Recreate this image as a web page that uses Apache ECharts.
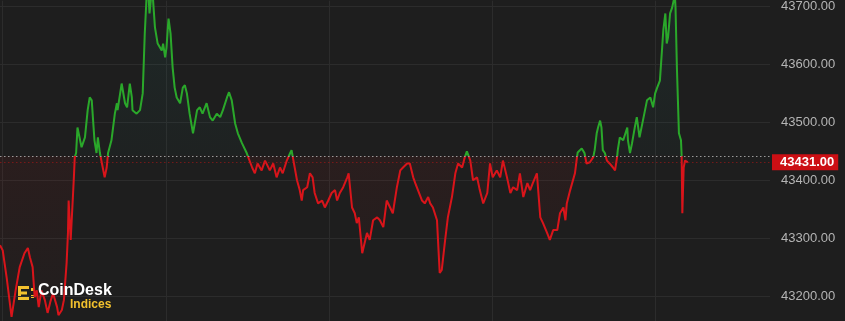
<!DOCTYPE html>
<html>
<head>
<meta charset="utf-8">
<script src="https://cdn.jsdelivr.net/npm/echarts@6/dist/echarts.min.js"></script>
<style>
html,body{margin:0;padding:0;background:#1e1e1e;}
#chart{width:845px;height:321px;}
</style>
</head>
<body>
<div id="chart"></div>
<script>
// time in minutes from the first vertical grid line (grid every 240 min)
const times = [
  -4,0,6,13,19,25,32,37,40,44,47,50,53,57,62,66,70,74,80,82,
  87,90,94,96,97,100,103,105,106,108,110,116,121,125,128,131,133,135,138,140,
  143,146,150,153,155,160,165,168,169,175,177,180,183,187,190,191,197,202,206,209,
  212,214,216,219,221,224,228,234,236,239,241,243,244,247,250,253,256,261,265,268,
  271,275,280,286,290,294,300,305,309,315,320,324,330,333,337,342,346,352,359,367,
  371,375,381,386,393,398,403,408,412,418,423,425,433,437,440,442,448,452,456,459,
  464,470,474,479,484,489,492,496,501,507,509,514,518,521,524,529,530,536,540,545,
  551,555,560,565,570,574,580,585,589,595,599,604,607,611,617,621,626,629,633,639,
  641,643,646,651,655,661,666,670,676,680,683,688,692,698,702,707,713,717,721,727,
  732,736,742,747,751,757,761,766,772,776,780,786,791,795,801,805,810,816,820,825,
  828,830,835,842,845,846,852,856,859,864,869,871,874,876,879,881,883,886,889,893,
  898,901,904,905,908,913,919,920,923,926,930,933,937,942,948,953,957,960,963,967,
  970,972,975,977,979,982,985,989,990,992,995,998,999,1000,1002,1004,1008
];
const prices = [
  43288,43279,43230,43164,43210,43250,43274,43283,43267,43250,43198,43210,43181,43210,43193,43171,43190,43205,43181,43167,
  43176,43193,43257,43309,43365,43297,43365,43412,43440,43447,43491,43457,43474,43521,43543,43538,43503,43469,43447,43474,
  43447,43429,43405,43422,43447,43469,43515,43533,43521,43567,43567,43533,43526,43567,43543,43521,43515,43521,43550,43653,
  43725,43730,43688,43725,43715,43664,43636,43624,43636,43612,43629,43664,43679,43653,43595,43560,43543,43533,43560,43564,
  43550,43515,43481,43521,43526,43515,43533,43509,43503,43515,43509,43521,43543,43552,43538,43498,43481,43464,43447,43422,
  43412,43429,43417,43434,43417,43429,43405,43422,43412,43434,43447,43452,43400,43383,43365,43383,43388,43412,43405,43378,
  43360,43365,43353,43365,43378,43383,43365,43378,43388,43405,43412,43353,43343,43326,43336,43274,43279,43309,43297,43331,
  43336,43331,43319,43365,43353,43343,43388,43417,43422,43429,43429,43405,43395,43383,43365,43360,43371,43360,43353,43331,
  43285,43240,43245,43297,43336,43371,43412,43429,43422,43440,43450,43434,43400,43405,43383,43360,43378,43429,43405,43417,
  43405,43434,43405,43378,43388,43383,43412,43371,43395,43383,43395,43412,43336,43326,43309,43297,43314,43314,43343,43353,
  43331,43360,43383,43412,43440,43448,43455,43447,43429,43431,43440,43452,43481,43491,43503,43491,43452,43447,43434,43429,
  43422,43417,43440,43452,43474,43469,43491,43469,43447,43464,43491,43509,43474,43503,43538,43543,43526,43550,43560,43572,
  43624,43659,43688,43636,43647,43688,43698,43720,43698,43595,43481,43469,43442,43343,43422,43434,43431
];
const baseline = 43442;
const lastPrice = 43431;
const yTickLabels = ['43200.00','43300.00','43400.00','43500.00','43600.00','43700.00'];

const GREEN = '#2aa82a';
const RED = '#d9141a';

const seriesData = times.map((t, i) => [t, prices[i]]);

const chart = echarts.init(document.getElementById('chart'), null, {renderer: 'canvas'});
chart.setOption({
  backgroundColor: '#1e1e1e',
  animation: false,
  grid: {left: 0, right: 75, top: 0, bottom: 0, containLabel: false},
  xAxis: {
    type: 'value', min: -4, max: 1129, minInterval: 240, maxInterval: 240,
    axisLine: {show: false}, axisTick: {show: false}, axisLabel: {show: false},
    splitLine: {show: true, showMinLine: false, showMaxLine: false, lineStyle: {color: '#2c2c2c', width: 1}}
  },
  yAxis: {
    type: 'value', position: 'right', min: 43157, max: 43710, minInterval: 100, maxInterval: 100,
    axisLine: {show: false}, axisTick: {show: false},
    axisLabel: {
      margin: 11, color: '#b4b4b4', fontSize: 13, fontFamily: 'Liberation Sans, Arial, sans-serif',
      showMinLabel: false, showMaxLabel: false,
      formatter: v => {
        const s = v.toFixed(2);
        return yTickLabels.indexOf(s) >= 0 ? s : '';
      }
    },
    splitLine: {show: true, showMinLine: false, showMaxLine: false, lineStyle: {color: '#2c2c2c', width: 1}}
  },
  visualMap: {
    type: 'piecewise', show: false, dimension: 1, seriesIndex: 0,
    pieces: [
      {gt: baseline, lte: 50000, color: GREEN},
      {gt: 30000, lte: baseline, color: RED}
    ],
    outOfRange: {color: RED}
  },
  series: [{
    type: 'line',
    data: seriesData,
    showSymbol: false,
    symbol: 'none',
    lineStyle: {width: 2},
    areaStyle: {
      origin: baseline,
      color: {
        type: 'linear', x: 0, y: 0, x2: 0, y2: 321, global: true,
        colorStops: [
          {offset: 0, color: 'rgba(38,166,154,0.11)'},
          {offset: 0.484, color: 'rgba(38,166,154,0.04)'},
          {offset: 0.485, color: 'rgba(205,25,25,0.10)'},
          {offset: 1, color: 'rgba(205,25,25,0.02)'}
        ]
      }
    },
    markLine: {
      silent: true,
      symbol: ['none', 'none'],
      animation: false,
      data: [
        {yAxis: baseline, lineStyle: {color: '#9a9a9a', type: [1.5, 2.5], width: 1}, label: {show: false}},
        {yAxis: lastPrice, lineStyle: {color: 'rgba(200,20,20,0.5)', type: [1.5, 2.5], width: 1},
          label: {
            show: true, position: 'end', distance: 2,
            formatter: lastPrice.toFixed(2),
            backgroundColor: '#cc0f14', color: '#ffffff', fontWeight: 'bold',
            fontSize: 13, fontFamily: 'Liberation Sans, Arial, sans-serif',
            padding: [2, 4, 1, 8], borderRadius: 0
          }}
      ]
    },
    z: 2
  }],
  graphic: [
    {type: 'group', left: 18, top: 286, z: 100, children: [
      {type: 'rect', shape: {x: 0, y: 0, width: 11, height: 3}, style: {fill: '#f2c12e'}},
      {type: 'rect', shape: {x: 0, y: 0, width: 3, height: 14}, style: {fill: '#f2c12e'}},
      {type: 'rect', shape: {x: 0, y: 11, width: 11, height: 3}, style: {fill: '#f2c12e'}},
      {type: 'rect', shape: {x: 3, y: 5.5, width: 6, height: 3}, style: {fill: '#f2c12e'}},
      {type: 'rect', shape: {x: 13, y: 2, width: 3, height: 3}, style: {fill: '#f2c12e'}},
      {type: 'rect', shape: {x: 13, y: 9, width: 3, height: 3}, style: {fill: '#f2c12e'}}
    ]},
    {type: 'text', left: 38, top: 283, z: 100,
      style: {text: 'CoinDesk', fill: '#ffffff', font: 'bold 16px "Liberation Sans", Arial, sans-serif'}},
    {type: 'text', left: 70, top: 299, z: 100,
      style: {text: 'Indices', fill: '#f2c12e', font: 'bold 12px "Liberation Sans", Arial, sans-serif'}}
  ]
});
</script>
</body>
</html>
